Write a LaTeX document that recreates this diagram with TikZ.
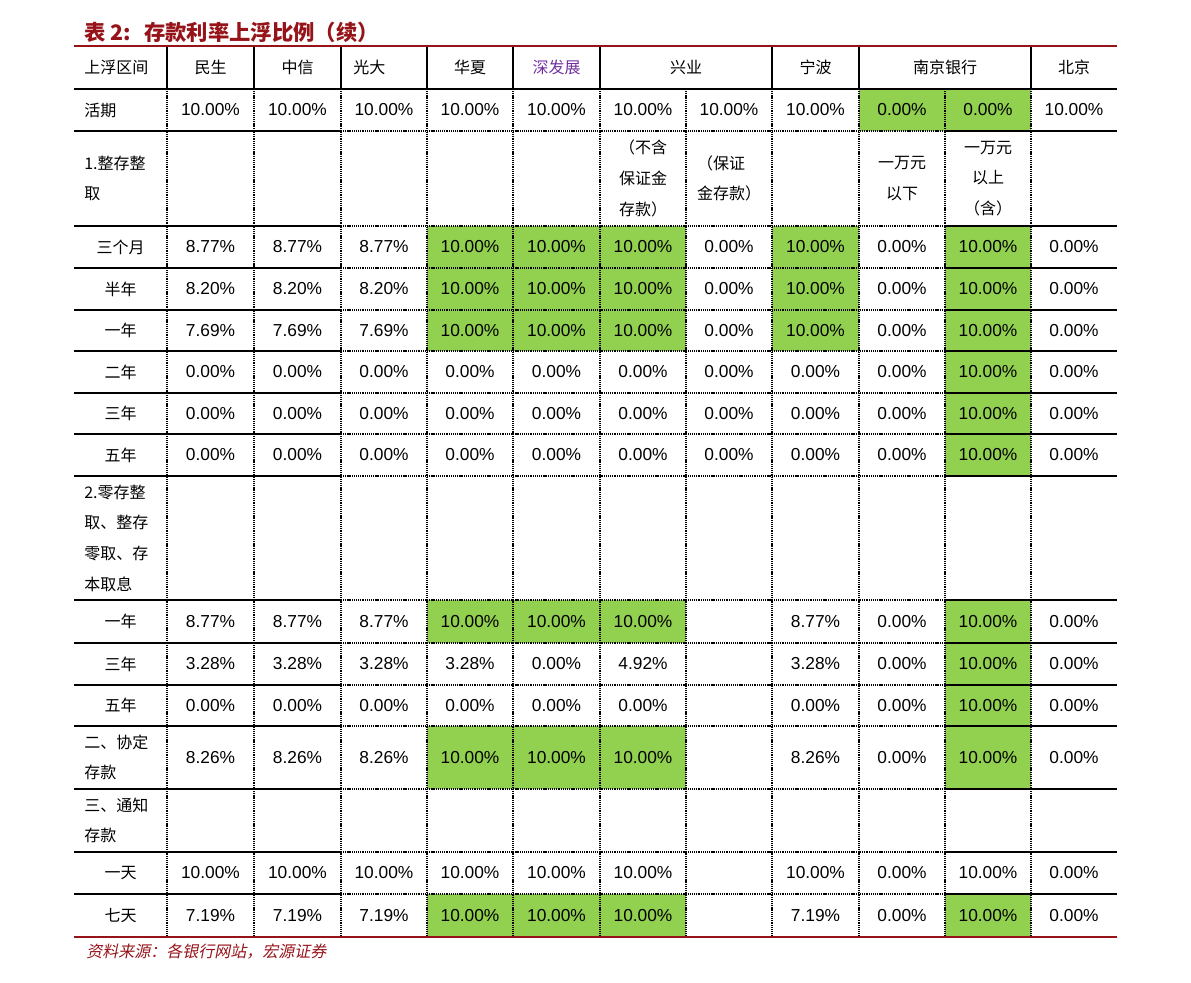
\documentclass[tikz,border=0pt]{standalone}
\usepackage{fontspec}
\setmainfont{Liberation Sans}
\newfontfamily\cjk{Noto Sans CJK SC}
\newfontfamily\cjksl[FakeSlant=0.2]{Noto Sans CJK SC}
\usepackage{tikz}

\definecolor{titlered}{RGB}{150,20,25}
\definecolor{cellgreen}{RGB}{146,208,80}
\definecolor{sdbpurple}{RGB}{112,48,160}

\tikzset{
  solidrule/.style={line width=1.5pt, black},
  dotrule/.style={line width=1.1pt, black, dash pattern=on 0.8pt off 0.6pt},
  redrule/.style={line width=1.5pt, titlered},
  num/.style={inner sep=0pt, font=\fontsize{13}{15}\selectfont},
  lbl/.style={inner sep=0pt, font=\cjk\fontsize{12}{23}\selectfont},
  lbll/.style={lbl, anchor=west, align=left},
}

% centre of row #1 into \yc, centre of column #1 into \xc
\newcommand\rowmid[1]{%
  \pgfmathtruncatemacro\rn{#1+1}%
  \pgfmathsetmacro\ya{\yb[#1]}%
  \pgfmathsetmacro\yz{\yb[\rn]}%
  \pgfmathsetmacro\yc{(\ya+\yz)/2}}
\newcommand\colmid[1]{%
  \pgfmathtruncatemacro\cn{#1+1}%
  \pgfmathsetmacro\xa{\xb[#1]}%
  \pgfmathsetmacro\xz{\xb[\cn]}%
  \pgfmathsetmacro\xc{(\xa+\xz)/2}}

\begin{document}
\begin{tikzpicture}[x=0.75pt, y=-0.75pt]
\useasboundingbox (0,0) rectangle (1191,982);
\def\xb{{74,167,254,341,427,513,600,686,772,859,945,1031,1117}}
\def\yb{{46,89,131,226,268,310,351,393,434,476,600,643,685,726,789,852,894,937}}

% green cells
\foreach \r/\ci in {1/9,1/10,
    3/4,3/5,3/6,3/8,3/10, 4/4,4/5,4/6,4/8,4/10, 5/4,5/5,5/6,5/8,5/10,
    6/10,7/10,8/10, 10/4,10/5,10/6,10/10, 11/10,12/10,
    13/4,13/5,13/6,13/10, 16/4,16/5,16/6,16/10}{
  \rowmid{\r}\colmid{\ci}
  \fill[cellgreen] (\xa,\ya) rectangle (\xz,\yz);
}

% rules
\foreach \y in {131,226,268,310,351,393,434,476,600,643,685,726,789,852,894}{
  \draw[solidrule] (74,\y) -- (341,\y);
  \draw[dotrule] (341,\y) -- (945,\y);
  \draw[solidrule] (945,\y) -- (1117,\y);
}
\draw[solidrule] (74,89) -- (1117,89);
\foreach \x in {167,254,341,427,513,600,772,859,1031}
  \draw[solidrule] (\x,46) -- (\x,89);
\foreach \x in {167,254,341,427,513,600,686,772,859,945,1031}
  \draw[dotrule] (\x,89) -- (\x,937);
\draw[redrule] (74,46) -- (1117,46);
\draw[redrule] (74,937) -- (1117,937);

% title and source
\node[anchor=west, inner sep=0pt, text=titlered, font=\cjk\bfseries\fontsize{16}{18}\selectfont] (title) at (84,32) {表 2:\hspace{10pt}存款利率上浮比例（续）};
\node[anchor=west, inner sep=0pt, text=titlered, font=\cjksl\fontsize{12}{14}\selectfont] (source) at (86,952) {资料来源：各银行网站，宏源证券};

% header
\node[lbll] (h0) at (84,67.5) {上浮区间};
\node[lbl] (h1) at (210.5,67.5) {民生};
\node[lbl] (h2) at (297.5,67.5) {中信};
\node[lbl, anchor=west] (h3) at (353,67.5) {光大};
\node[lbl] (h4) at (470,67.5) {华夏};
\node[lbl, text=sdbpurple] (h5) at (556.5,67.5) {深发展};
\node[lbl] (h6) at (686,67.5) {兴业};
\node[lbl] (h8) at (815.5,67.5) {宁波};
\node[lbl] (h9) at (945,67.5) {南京银行};
\node[lbl] (h11) at (1074,67.5) {北京};

\node[lbl, align=center] (s6) at (643,178.5) {（不含\\保证金\\存款）};
\node[lbl, align=left] (s7) at (729,178.5) {（保证\\金存款）};
\node[lbl, align=center] (s9) at (902,178.5) {一万元\\以下};
\node[lbl, align=center] (s10) at (988,178.5) {一万元\\以上\\（含）};

% row labels
\foreach \r/\t in {1/活期, 2/{1.整存整\\取}, 9/{2.零存整\\取、整存\\零取、存\\本取息},
    13/{二、协定\\存款}, 14/{三、通知\\存款}}{
  \rowmid{\r}
  \node[lbll] (l\r) at (84,\yc) {\t};
}
\foreach \r/\t in {3/三个月, 4/半年, 5/一年, 6/二年, 7/三年, 8/五年,
    10/一年, 11/三年, 12/五年, 15/一天, 16/七天}{
  \rowmid{\r}
  \node[lbl] (l\r) at (120.5,\yc) {\t};
}

% values
\foreach \r/\vals in {
    1/{10.00\%,10.00\%,10.00\%,10.00\%,10.00\%,10.00\%,10.00\%,10.00\%,0.00\%,0.00\%,10.00\%},
    3/{8.77\%,8.77\%,8.77\%,10.00\%,10.00\%,10.00\%,0.00\%,10.00\%,0.00\%,10.00\%,0.00\%},
    4/{8.20\%,8.20\%,8.20\%,10.00\%,10.00\%,10.00\%,0.00\%,10.00\%,0.00\%,10.00\%,0.00\%},
    5/{7.69\%,7.69\%,7.69\%,10.00\%,10.00\%,10.00\%,0.00\%,10.00\%,0.00\%,10.00\%,0.00\%},
    6/{0.00\%,0.00\%,0.00\%,0.00\%,0.00\%,0.00\%,0.00\%,0.00\%,0.00\%,10.00\%,0.00\%},
    7/{0.00\%,0.00\%,0.00\%,0.00\%,0.00\%,0.00\%,0.00\%,0.00\%,0.00\%,10.00\%,0.00\%},
    8/{0.00\%,0.00\%,0.00\%,0.00\%,0.00\%,0.00\%,0.00\%,0.00\%,0.00\%,10.00\%,0.00\%},
    10/{8.77\%,8.77\%,8.77\%,10.00\%,10.00\%,10.00\%,{},8.77\%,0.00\%,10.00\%,0.00\%},
    11/{3.28\%,3.28\%,3.28\%,3.28\%,0.00\%,4.92\%,{},3.28\%,0.00\%,10.00\%,0.00\%},
    12/{0.00\%,0.00\%,0.00\%,0.00\%,0.00\%,0.00\%,{},0.00\%,0.00\%,10.00\%,0.00\%},
    13/{8.26\%,8.26\%,8.26\%,10.00\%,10.00\%,10.00\%,{},8.26\%,0.00\%,10.00\%,0.00\%},
    15/{10.00\%,10.00\%,10.00\%,10.00\%,10.00\%,10.00\%,{},10.00\%,0.00\%,10.00\%,0.00\%},
    16/{7.19\%,7.19\%,7.19\%,10.00\%,10.00\%,10.00\%,{},7.19\%,0.00\%,10.00\%,0.00\%}}{
  \rowmid{\r}
  \foreach \v [count=\ci] in \vals {
    \colmid{\ci}
    \ifx\v\empty\else\node[num] (c\r-\ci) at (\xc,\yc) {\v};\fi
  }
}
\end{tikzpicture}
\end{document}
